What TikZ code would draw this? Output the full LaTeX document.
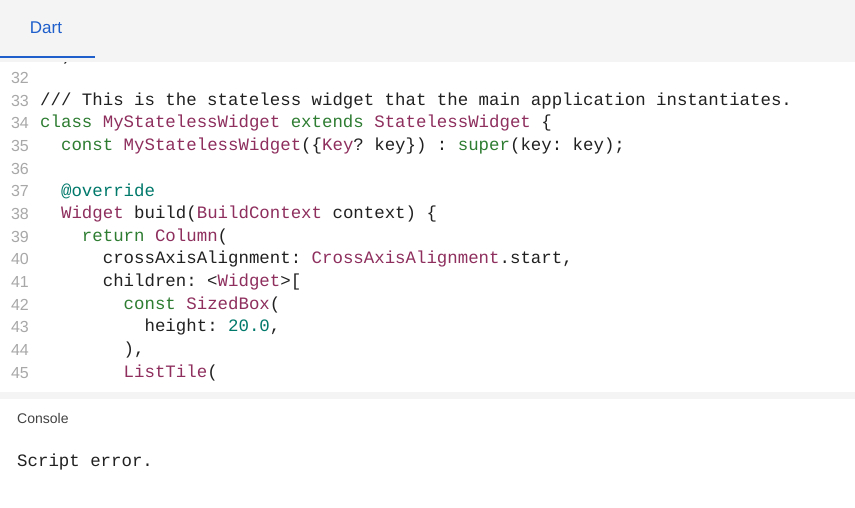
\documentclass[tikz,border=0pt]{standalone}
\usepackage{fontspec}
\setmainfont{Liberation Sans}
\setmonofont{Liberation Mono}
\definecolor{kw}{HTML}{2E7D32}
\definecolor{ty}{HTML}{8E2F5E}
\definecolor{an}{HTML}{00796B}
\definecolor{tx}{HTML}{212121}
\definecolor{ln}{HTML}{A8A8A8}
\definecolor{bar}{HTML}{F4F4F4}
\definecolor{tab}{HTML}{1E5FCC}
\newcommand{\K}[1]{\textcolor{kw}{#1}}
\newcommand{\T}[1]{\textcolor{ty}{#1}}
\newcommand{\A}[1]{\textcolor{an}{#1}}
\tikzset{code/.style={anchor=west,inner sep=0pt,font=\ttfamily\fontsize{17.4}{18}\selectfont,text=tx},
lnum/.style={anchor=east,inner sep=0pt,font=\fontsize{16}{17}\selectfont,text=ln}}
\begin{document}
\begin{tikzpicture}[x=1pt,y=-1pt]
\useasboundingbox (0,0) rectangle (855,508);
\fill[white] (0,0) rectangle (855,508);
\node[code] (l31) at (40,56) {\phantom{xx}\textcolor{tx}{)}};
\fill[bar] (0,0) rectangle (855,62);
\fill[tab] (0,56) rectangle (95,58.5);
\node[inner sep=0pt,text=tab,font=\fontsize{17}{18}\selectfont] (tabn) at (46,28) {Dart};
\fill[bar] (0,392) rectangle (855,399);
\foreach \n [count=\i from 0] in {32,...,45} {
  \node[lnum] (n\n) at (29,{78+\i*22.67}) {\n};
}
\node[code] (c33) at (40,{78+1*22.67}) {/// This is the stateless widget that the main application instantiates.};
\node[code] (c34) at (40,{78+2*22.67}) {\K{class} \T{MyStatelessWidget} \K{extends} \T{StatelessWidget} \{};
\node[code] (c35) at (40,{78+3*22.67}) {\phantom{xx}\K{const} \T{MyStatelessWidget}(\{\T{Key}? key\}) : \K{super}(key: key);};
\node[code] (c37) at (40,{78+5*22.67}) {\phantom{xx}\A{@override}};
\node[code] (c38) at (40,{78+6*22.67}) {\phantom{xx}\T{Widget} build(\T{BuildContext} context) \{};
\node[code] (c39) at (40,{78+7*22.67}) {\phantom{xxxx}\K{return} \T{Column}(};
\node[code] (c40) at (40,{78+8*22.67}) {\phantom{xxxxxx}crossAxisAlignment: \T{CrossAxisAlignment}.start,};
\node[code] (c41) at (40,{78+9*22.67}) {\phantom{xxxxxx}children: <\T{Widget}>[};
\node[code] (c42) at (40,{78+10*22.67}) {\phantom{xxxxxxxx}\K{const} \T{SizedBox}(};
\node[code] (c43) at (40,{78+11*22.67}) {\phantom{xxxxxxxxxx}height: \A{20.0},};
\node[code] (c44) at (40,{78+12*22.67}) {\phantom{xxxxxxxx}),};
\node[code] (c45) at (40,{78+13*22.67}) {\phantom{xxxxxxxx}\T{ListTile}(};
\node[anchor=west,inner sep=0pt,text=tx!85,font=\fontsize{14}{16}\selectfont] (cons) at (17,418) {Console};
\node[code] (err) at (17,462) {Script error.};
\end{tikzpicture}
\end{document}
